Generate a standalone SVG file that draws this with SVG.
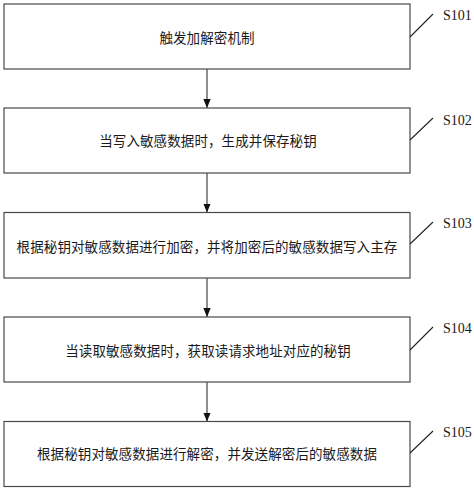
<svg xmlns="http://www.w3.org/2000/svg" width="474" height="491" viewBox="0 0 474 491">
<style>
.box{fill:#fff;stroke:#4a4a4a;stroke-width:1.2}
.t{font-family:"Noto Sans CJK SC","Noto Sans CJK JP",sans-serif;font-size:13.5px;fill:#1a1a1a;text-anchor:middle;dominant-baseline:central;letter-spacing:0.1px}
.lbl{font-family:"Liberation Serif",serif;font-size:14px;fill:#1a1a1a}
.lead{stroke:#222;stroke-width:1.1;fill:none}
.conn{stroke:#333;stroke-width:1.1;fill:none}
</style>
<defs>
<marker id="arr" markerWidth="9" markerHeight="11" refX="11" refY="4.5" orient="auto" markerUnits="userSpaceOnUse" viewBox="0 0 11 9">
<path d="M0,0 L11,4.5 L0,9 Z" fill="#111"/>
</marker>
</defs>
<rect width="474" height="491" fill="#fff"/>
<g id="connectors">
<line class="conn" x1="207" y1="69" x2="207" y2="108" marker-end="url(#arr)"/>
<line class="conn" x1="207" y1="173" x2="207" y2="212.5" marker-end="url(#arr)"/>
<line class="conn" x1="207" y1="278" x2="207" y2="317" marker-end="url(#arr)"/>
<line class="conn" x1="207" y1="382" x2="207" y2="421.5" marker-end="url(#arr)"/>
</g>
<g id="S101">
<rect class="box" x="4" y="4" width="406" height="65"/>
<text class="t" x="207" y="37">触发加解密机制</text>
<line class="lead" x1="410" y1="37" x2="433" y2="14"/>
<text class="lbl" x="443" y="20">S101</text>
</g>
<g id="S102">
<rect class="box" x="4" y="108" width="406" height="65"/>
<text class="t" x="208" y="140">当写入敏感数据时，生成并保存秘钥</text>
<line class="lead" x1="410" y1="140" x2="433" y2="118"/>
<text class="lbl" x="443" y="125">S102</text>
</g>
<g id="S103">
<rect class="box" x="4" y="212.5" width="406" height="65.5"/>
<text class="t" x="207" y="246">根据秘钥对敏感数据进行加密，并将加密后的敏感数据写入主存</text>
<line class="lead" x1="410" y1="244" x2="433" y2="222"/>
<text class="lbl" x="443" y="228">S103</text>
</g>
<g id="S104">
<rect class="box" x="4" y="317" width="406" height="65"/>
<text class="t" x="208" y="350">当读取敏感数据时，获取读请求地址对应的秘钥</text>
<line class="lead" x1="410" y1="350" x2="433" y2="327"/>
<text class="lbl" x="443" y="333">S104</text>
</g>
<g id="S105">
<rect class="box" x="4" y="421.5" width="406" height="65"/>
<text class="t" x="207" y="453">根据秘钥对敏感数据进行解密，并发送解密后的敏感数据</text>
<line class="lead" x1="410" y1="453" x2="433" y2="431"/>
<text class="lbl" x="443" y="437">S105</text>
</g>
</svg>
